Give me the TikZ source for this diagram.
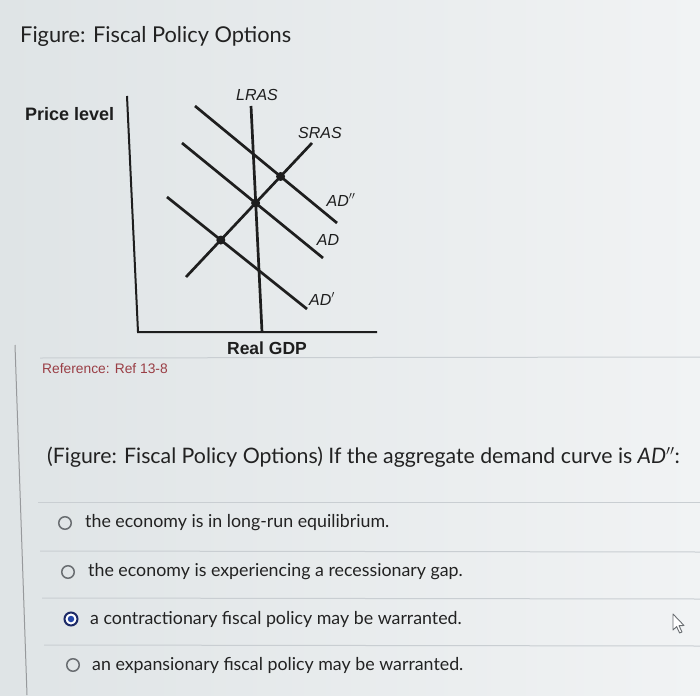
\documentclass[tikz,border=0pt]{standalone}
\usepackage{fontspec}
\setmainfont{Lato}
\setsansfont{Liberation Sans}
\begin{document}
\begin{tikzpicture}[x=1pt,y=-1pt,
  curve/.style={line width=2.7pt,draw=ink},
  axis/.style={line width=2pt,draw=ink},
  dot/.style={circle,fill=ink,inner sep=0pt,minimum size=9pt},
  glab/.style={font=\sffamily\itshape\fontsize{16}{18}\selectfont,text=ink,inner sep=0pt},
  blab/.style={font=\sffamily\bfseries\fontsize{18}{20}\selectfont,text=ink,inner sep=0pt},
  sep/.style={draw=sepc,line width=1pt},
  opt/.style={font=\fontsize{17.8}{21}\selectfont,text=txt,inner sep=0pt,anchor=west},
  radio/.style={circle,draw=radc,line width=1.5pt,minimum size=12.5pt,inner sep=0pt}]
\definecolor{ink}{HTML}{1E1E1E}
\definecolor{txt}{HTML}{222222}
\definecolor{sepc}{HTML}{C9CED2}
\definecolor{radc}{HTML}{6A6E72}
\definecolor{bgl}{HTML}{DFE4E6}
\definecolor{bgr}{HTML}{F1F3F4}
\definecolor{refc}{HTML}{9A3E45}
\definecolor{navy}{HTML}{1C2966}
\definecolor{blu}{HTML}{2446A8}
\useasboundingbox (0,0) rectangle (700,695);
\shade[left color=bgl,right color=bgr] (0,0) rectangle (700,695);

% title
\node[anchor=west,inner sep=0pt,text=txt,font=\fontsize{21.8}{26}\selectfont] (title) at (20,36) {Figure: Fiscal Policy Options};

% graph
\node[blab,anchor=west] (plabel) at (25,114) {Price level};
\coordinate (yt) at (127,96);
\coordinate (o) at (138,332);
\coordinate (xr) at (377,332);
\draw[axis] (yt) -- (o) -- (xr);
\coordinate (l1) at (251,106); \coordinate (l2) at (262,332);
\draw[curve] (l1) -- (l2);
\node[glab] (lras) at (257,95) {LRAS};
\coordinate (s1) at (186,277); \coordinate (s2) at (312,143);
\draw[curve] (s1) -- (s2);
\node[glab] (sras) at (320,133) {SRAS};
\coordinate (a1) at (195,106); \coordinate (a2) at (337,223);
\draw[curve] (a1) -- (a2);
\node[glab] (adpp) at (341,200) {AD$^{\prime\prime}$};
\coordinate (b1) at (182,143); \coordinate (b2) at (323,258);
\draw[curve] (b1) -- (b2);
\node[glab] (ad) at (328,240) {AD};
\coordinate (c1) at (167,197); \coordinate (c2) at (307,309);
\draw[curve] (c1) -- (c2);
\node[glab] (adp) at (322,299) {AD$^{\prime}$};
\node[dot] (e1) at (intersection of s1--s2 and a1--a2) {};
\node[dot] (e2) at (intersection of s1--s2 and b1--b2) {};
\node[dot] (e3) at (intersection of s1--s2 and c1--c2) {};
\node[blab,anchor=center,font=\sffamily\bfseries\fontsize{17.5}{20}\selectfont] (xlabel) at (267,348) {Real GDP};

% panel lines
\coordinate (v1) at (15,345); \coordinate (v2) at (27,695);
\draw[draw=radc!70,line width=1pt] (v1) -- (v2);
\coordinate (h1) at (40,358); \coordinate (h2) at (700,357);
\draw[sep] (h1) -- (h2);
\node[anchor=west,inner sep=0pt,text=refc,font=\sffamily\fontsize{13.8}{16}\selectfont] (ref) at (42,369) {Reference: Ref 13-8};

% question
\node[anchor=west,inner sep=0pt,text=txt,font=\fontsize{21.3}{25}\selectfont] (q) at (47,457) {(Figure: Fiscal Policy Options) If the aggregate demand curve is \textit{AD}$''$:};

\coordinate (p1) at (38,502); \coordinate (p2) at (700,502);
\coordinate (p3) at (40,551); \coordinate (p4) at (700,552);
\coordinate (p5) at (42,598); \coordinate (p6) at (700,599);
\coordinate (p7) at (44,645); \coordinate (p8) at (700,646);
\draw[sep] (p1) -- (p2);
\draw[sep] (p3) -- (p4);
\draw[sep] (p5) -- (p6);
\draw[sep] (p7) -- (p8);

\node[radio] (r1) at (65,523) {};
\node[opt] (o1) at (85,523) {the economy is in long-run equilibrium.};
\node[radio] (r2) at (68,572) {};
\node[opt] (o2) at (88,572) {the economy is experiencing a recessionary gap.};
\node[circle,draw=navy,line width=2pt,fill=white,minimum size=13pt,inner sep=0pt] (r3) at (71,619) {};
\node[circle,fill=blu,minimum size=6.5pt,inner sep=0pt] (r3d) at (r3) {};
\node[opt] (o3) at (90,619) {a contractionary fiscal policy may be warranted.};
\node[radio] (r4) at (73,665) {};
\node[opt] (o4) at (92,665) {an expansionary fiscal policy may be warranted.};

% cursor
\coordinate (ct) at (673,614);
\draw[draw=radc,fill=white,line width=0.9pt,line join=round]
  (ct) -- ++(0,16) -- ++(3.6,-3.4) -- ++(3,6.4) -- ++(2.4,-1.1) -- ++(-3,-6.2) -- ++(5,-0.2) -- cycle;
\end{tikzpicture}
\end{document}
